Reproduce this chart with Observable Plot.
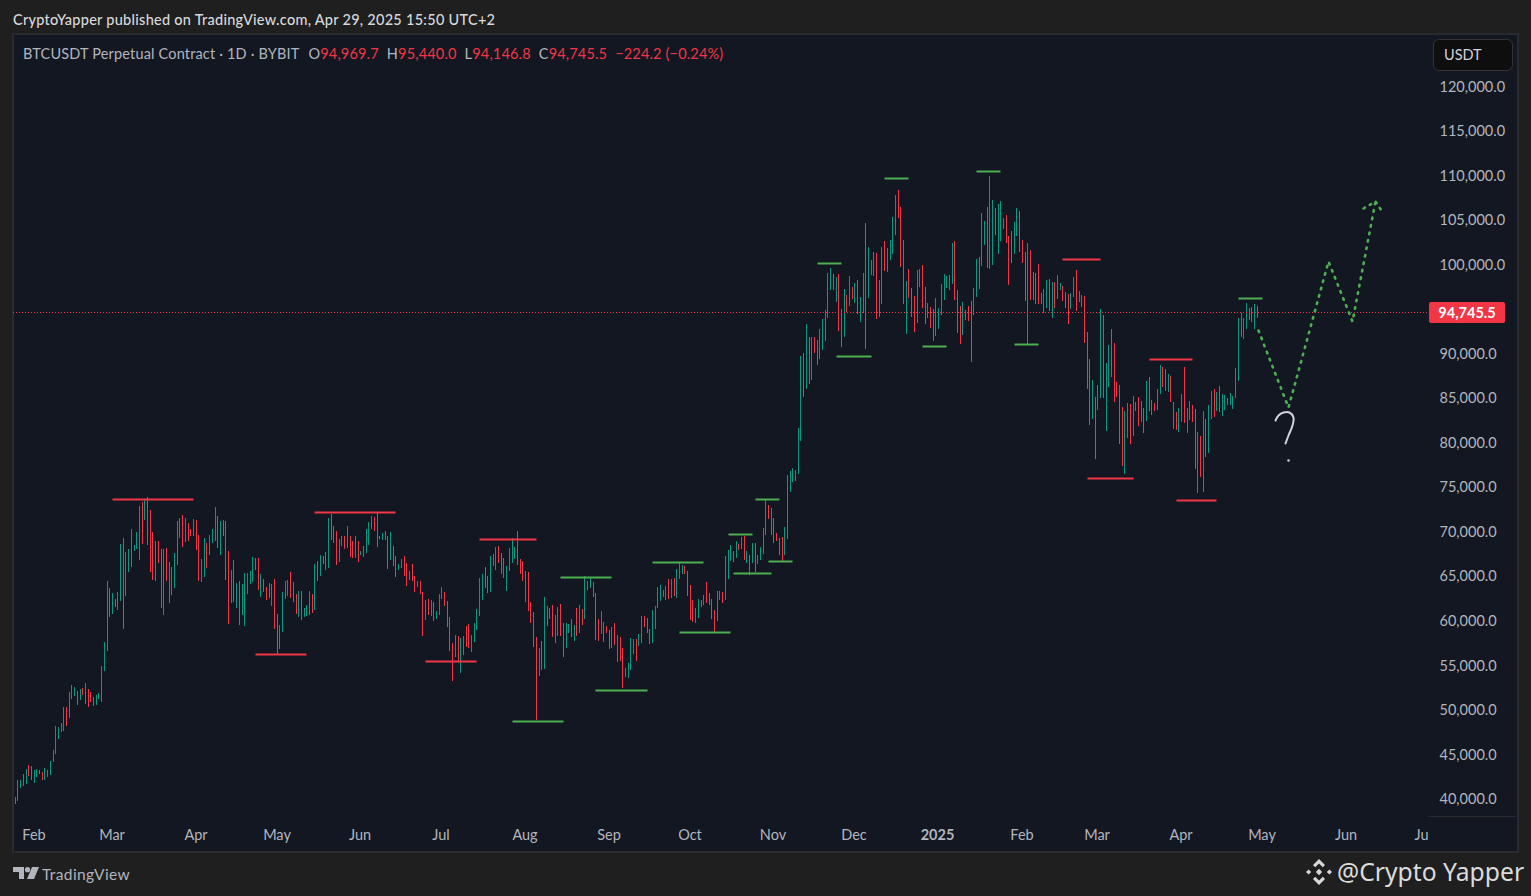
<!DOCTYPE html>
<html>
<head>
<meta charset="utf-8">
<script src="https://cdn.jsdelivr.net/npm/d3@7"></script>
<script src="https://cdn.jsdelivr.net/npm/@observablehq/plot@0.6"></script>
<style>
html,body{margin:0;padding:0;background:#1f1f1f;width:1531px;height:896px;overflow:hidden}
body{position:relative;font-family:"Lato",sans-serif}
.abs{position:absolute;white-space:nowrap}
#pane{left:12px;top:33px;width:1503px;height:816px;background:#131722;border:2px solid #2a2b2e}
#axisline{left:1428px;top:816px;width:88px;height:1px;background:#2a2b2e}
#chart{position:absolute;left:0;top:0}
#pub{left:13px;top:11px;font-size:14.5px;color:#d8d9dc;font-weight:500;letter-spacing:.27px}
#legend{left:23px;top:45px;font-size:14.5px;color:#b2b5be;letter-spacing:.17px}
#legend b{font-weight:400;color:#f23645}
#legend span{margin-right:8px}
#legend span:first-child{margin-right:9px}
#usdt{left:1433px;top:39px;width:80px;height:32px;box-sizing:border-box;background:#0e0e0f;border:1px solid #333;border-radius:6px;color:#d1d4dc;font-size:14.5px;line-height:30px;padding-left:10px}
#tag{left:1429px;top:302px;width:76px;height:21px;background:#f23645;color:#fff;font-size:14.5px;line-height:21px;text-align:center;font-weight:700;border-radius:2px}
#tvtext{left:42px;top:865px;font-size:15.5px;color:#b2b5be;letter-spacing:.4px}
#tvlogo{left:13px;top:867px}
#byline{left:1337px;top:855px;font-family:"Noto Sans",sans-serif;font-size:24.7px;color:#dcdcdc}
#bnlogo{left:1305px;top:858px}
</style>
</head>
<body>
<div class="abs" id="pane"></div>
<div class="abs" id="axisline"></div>
<div id="chart"></div>
<div class="abs" id="pub">CryptoYapper published on TradingView.com, Apr 29, 2025 15:50 UTC+2</div>
<div class="abs" id="legend"><span>BTCUSDT Perpetual Contract · 1D · BYBIT</span><span>O<b>94,969.7</b></span><span>H<b>95,440.0</b></span><span>L<b>94,146.8</b></span><span>C<b>94,745.5</b></span><b>−224.2 (−0.24%)</b></div>
<div class="abs" id="usdt">USDT</div>
<div class="abs" id="tag">94,745.5</div>
<svg class="abs" id="tvlogo" width="26" height="14" viewBox="0 0 26 14"><path fill="#b2b5be" d="M0 0h11v12H6V5H0z"/><circle cx="14.5" cy="2.7" r="2.6" fill="#b2b5be"/><path fill="#b2b5be" d="M19 0h7l-5 12h-7z"/></svg>
<div class="abs" id="tvtext">TradingView</div>
<svg class="abs" id="bnlogo" width="28" height="28" viewBox="0 0 28 28"><g fill="#d8d8d8"><path d="M14 1l6 6-2.2 2.2L14 5.4l-3.8 3.8L8 7z"/><path d="M14 27l6-6-2.2-2.2L14 22.6l-3.8-3.8L8 21z"/><path d="M1 14l2.6-2.6L6.2 14l-2.6 2.6z"/><path d="M27 14l-2.6-2.6L21.8 14l2.6 2.6z"/><path d="M14 10.8l3.2 3.2-3.2 3.2-3.2-3.2z"/></g></svg>
<div class="abs" id="byline">@Crypto Yapper</div>
<script>
const startDate = "2024-01-25";
const endDate = "2025-04-29";
const lastClose = 94745.5;
const upColor = "#089981";
const downColor = "#f23645";
const levelGreen = "#4caf50";

// Daily highs, in thousands of USDT
const highs = [
40.4,42.3,42.3,42.9,43.5,44.0,43.8,43.4,43.5,43.4,
43.2,43.6,43.4,44.4,45.6,48.3,48.2,48.7,50.5,50.5,
52.1,52.9,52.7,52.3,52.5,52.6,53.2,52.5,52.1,51.6,
51.8,52.0,55.1,57.8,64.6,63.8,63.3,62.6,63.4,68.8,
69.4,67.9,68.2,70.4,68.6,70.1,73.0,73.5,73.8,74.0,
72.6,70.1,69.1,69.1,68.2,68.2,68.3,66.7,66.2,67.7,
71.3,71.7,72.0,71.7,71.1,70.4,71.6,71.5,69.8,67.1,
69.4,68.9,69.8,70.4,72.9,71.9,71.3,71.5,71.3,68.0,
65.8,67.0,64.4,64.6,64.3,65.5,65.5,65.7,67.3,67.2,
67.2,65.4,64.8,63.9,64.4,64.3,64.8,60.9,59.7,63.4,
64.6,64.7,65.6,64.5,63.1,63.5,63.5,61.6,61.9,63.5,
63.1,66.5,66.8,67.5,67.4,67.9,71.7,72.1,70.8,70.2,
69.3,69.7,69.7,70.8,69.7,69.1,69.7,69.1,68.0,68.5,
70.4,71.2,71.9,71.8,72.2,69.7,70.0,70.2,69.7,70.1,
68.5,67.4,66.5,67.1,67.4,66.6,65.7,66.5,65.2,64.6,
64.6,63.4,62.5,62.6,62.5,62.2,61.2,63.1,63.9,63.4,
62.4,60.6,57.6,58.5,58.4,58.2,58.4,59.5,59.8,58.5,
59.9,61.5,64.9,65.4,66.2,65.2,67.4,67.6,68.4,68.5,
67.7,67.2,66.3,68.3,69.4,68.4,70.2,67.1,66.8,65.7,
65.6,62.2,61.1,58.3,57.1,57.9,62.8,61.8,61.6,61.9,
60.8,61.7,62.0,59.9,59.9,59.8,60.3,59.7,61.6,61.9,
61.5,65.2,64.6,65.0,64.5,63.3,60.3,61.2,60.0,59.5,
59.1,59.4,59.9,58.5,58.3,57.1,54.8,55.4,58.2,58.1,
58.1,58.7,60.7,60.7,60.4,59.2,61.3,61.8,63.9,64.2,
63.6,64.0,64.8,64.8,64.9,65.9,66.6,66.4,66.3,65.7,
64.1,62.5,61.6,62.6,62.5,63.0,64.5,63.3,62.6,61.3,
63.5,63.5,63.4,67.4,68.1,68.6,68.0,69.1,68.8,69.5,
69.7,68.0,67.5,68.9,68.9,67.5,68.4,70.6,73.7,73.1,
72.8,71.7,70.0,69.4,69.5,70.7,76.5,76.9,77.3,77.1,
81.8,89.9,90.2,93.4,92.0,92.0,92.0,91.7,92.9,94.0,
95.0,99.2,99.7,99.1,98.7,99.1,95.1,97.4,96.7,98.8,
97.6,98.0,98.4,96.5,99.2,104.8,102.1,100.6,101.5,101.4,
98.4,102.1,102.8,102.0,102.9,105.5,107.9,108.5,106.6,102.9,
98.3,99.6,97.5,96.6,99.5,99.6,100.1,97.6,95.8,95.4,
95.1,96.4,95.2,97.9,99.1,98.8,99.0,102.5,102.8,97.3,
95.5,95.9,95.0,95.5,96.0,97.5,100.7,101.0,105.9,105.0,
106.6,110.1,107.4,106.5,106.9,107.3,105.3,105.7,103.3,103.9,
104.9,106.5,106.1,102.9,101.5,102.5,101.8,99.3,99.2,100.2,
96.9,97.4,98.4,98.5,98.2,98.2,99.0,98.0,97.7,97.0,
96.8,96.9,98.7,99.5,97.2,96.7,96.6,92.5,89.5,87.2,
85.3,86.6,95.1,94.5,89.1,91.1,92.9,91.3,86.9,86.6,
84.1,83.7,84.6,84.5,85.4,84.7,85.3,84.8,84.0,87.1,
87.5,84.9,84.6,86.1,88.8,88.6,88.4,87.8,87.6,84.7,
83.6,84.0,85.6,88.6,84.0,84.8,84.4,83.9,81.3,80.9,
83.7,82.8,84.4,85.9,86.1,85.8,86.5,85.6,85.5,85.1,
85.7,85.4,88.5,94.1,94.7,94.1,95.8,95.2,95.4,95.7,95.44];

// Daily lows, in thousands of USDT
const lows = [
39.6,39.9,41.4,41.6,41.8,42.7,42.3,41.9,42.6,42.9,
42.3,42.3,42.6,42.8,44.3,45.2,46.9,47.7,47.8,48.3,
49.2,51.4,51.7,50.7,51.2,51.8,50.8,50.5,51.0,50.6,
50.7,51.4,51.0,54.5,56.7,60.6,60.9,61.7,61.3,62.4,
59.2,62.9,65.6,66.2,68.0,68.2,67.0,68.8,71.5,68.6,
65.6,64.7,64.6,66.6,61.6,60.8,64.6,62.1,63.0,63.8,
66.4,69.4,68.4,69.0,69.1,69.7,69.7,68.1,64.6,64.5,
65.0,66.1,67.5,68.9,69.1,68.3,67.5,69.7,64.7,59.8,
62.1,62.2,61.6,59.7,60.8,59.5,63.1,64.3,64.5,65.8,
63.6,62.8,63.4,62.5,62.7,61.8,59.2,56.4,57.0,58.9,
62.6,62.9,62.7,62.2,60.9,60.6,60.2,60.6,60.7,60.8,
61.0,61.3,64.6,65.2,66.5,65.8,66.1,69.2,68.9,66.4,
66.7,68.5,68.2,68.3,67.3,67.2,67.2,66.7,67.5,67.3,
67.7,68.6,70.4,70.2,68.4,69.3,69.2,69.2,65.9,67.0,
66.3,65.0,65.8,66.1,65.2,64.0,64.7,64.6,63.4,63.9,
63.1,58.4,60.2,60.8,60.7,60.1,60.3,60.8,62.6,61.8,
59.4,56.7,53.4,56.1,55.6,54.3,56.3,57.2,57.1,56.6,
57.8,59.1,60.7,62.5,63.8,63.3,63.4,66.3,65.8,66.6,
65.4,64.9,63.5,65.7,66.6,67.1,66.4,65.4,64.6,62.2,
61.2,59.9,57.2,49.0,53.9,54.6,54.7,59.5,60.3,58.3,
57.6,58.4,58.4,56.1,57.1,58.8,58.3,57.9,58.4,58.8,
59.7,60.3,63.6,63.8,62.8,58.0,57.9,58.7,57.8,58.8,
57.0,57.1,57.4,55.5,55.6,52.6,53.8,53.7,54.6,56.4,
55.6,57.3,57.6,59.4,58.8,57.5,57.6,59.2,61.6,62.4,
62.8,62.5,62.6,62.7,62.9,62.7,64.8,65.4,65.4,62.9,
60.2,60.0,59.9,60.4,61.7,61.9,62.1,61.9,60.3,58.9,
60.1,62.5,62.1,62.5,64.8,66.8,66.7,67.2,68.1,68.2,
67.0,66.6,65.3,66.6,65.6,66.5,67.0,67.6,69.8,71.6,
69.8,68.9,69.1,67.5,66.8,67.5,69.3,74.6,75.7,75.8,
76.6,80.3,85.3,86.1,86.7,87.2,90.2,88.9,89.5,90.5,
91.5,94.1,97.3,97.3,95.9,92.7,90.9,92.0,94.8,95.5,
96.3,95.8,94.6,93.7,94.7,90.6,96.4,99.0,98.8,94.0,
94.2,95.7,99.4,99.3,100.6,101.3,103.4,105.3,99.9,95.7,
92.3,96.4,94.2,92.5,93.6,97.6,95.2,93.4,94.1,93.0,
91.5,92.1,92.9,94.5,96.1,97.5,97.3,97.9,96.1,92.4,
91.2,92.2,93.9,93.8,89.2,94.5,96.5,97.4,100.0,102.3,
99.7,99.6,100.1,103.4,101.3,102.8,104.1,102.5,97.8,100.3,
101.3,103.3,101.5,100.3,96.0,91.2,96.1,96.1,95.7,95.7,
95.7,94.7,95.2,94.9,94.1,95.2,96.3,97.3,96.0,95.2,
93.4,95.1,96.5,94.9,95.9,95.4,91.3,86.1,82.1,82.8,
78.3,83.8,85.1,85.1,81.4,86.4,87.5,84.7,85.3,80.0,
77.5,76.6,80.6,80.0,80.9,83.7,82.0,82.5,81.2,82.6,
83.7,83.2,83.7,83.8,85.6,86.4,85.9,85.8,84.7,81.7,
81.5,81.3,82.5,82.3,81.2,82.7,82.5,77.2,74.5,76.3,
74.6,78.5,79.0,82.8,83.0,83.7,83.6,83.1,83.8,84.4,
84.4,83.9,85.1,87.1,92.0,91.8,92.9,93.9,93.7,92.9,94.15];

// Day direction: g = up, r = down
const directions = [
"rggrgrrggr","rggggggggr","gggrgrgrrr","gggggrgrgg","rggggggrgr","rrgrrgrrgg",
"ggrgrrgrrg","grgggrgrrr","grgrgggggr","rgrrrgrrgg","ggrrrgrggg","rgrgrrgrrr",
"ggrgrrgrgr","gggrrrgrrg","rrggrrrrrg","rrgrgrgggr","rrrgrggrrg","ggggrrgggr",
"rrggggrrrg","rrrrgrgrgr","ggrrggrgrg","rgggrrrgrr","rgrgrrgggg","rggrrrgggg",
"ggrgrgggrr","rrggrgrrrr","ggrgggrgrg","rgrgrggggr","rrrrrggggg","ggrgrgrrgg",
"gggrgrrgrg","rgrggrgggr","rgrggggrrr","grrrggrrgr","rgggggggrr","rgrrrggrgg",
"rggrggrrrr","ggrrrgrrrr","rggrgrggrr","rggrgrrrrg","rggrggrrrr","rggrggrgrg",
"rrrggrrgrr","rggrggrrgr","grggrgrggr","gggggggrrgr"
].join("");

// Marked support and resistance levels
const levelStarts = ["2024-03-01","2024-05-15","2024-04-23","2024-06-25","2024-07-15","2024-07-27","2024-08-14","2024-08-27","2024-09-17","2024-09-27","2024-10-15","2024-10-17","2024-10-25","2024-10-30","2024-11-17","2024-11-24","2024-12-12","2024-12-26","2025-01-15","2025-01-29","2025-04-22","2025-02-16","2025-02-25","2025-03-20","2025-03-30"];
const levelEnds = ["2024-03-31","2024-06-14","2024-05-12","2024-07-14","2024-08-05","2024-08-15","2024-09-02","2024-09-15","2024-10-06","2024-10-16","2024-10-24","2024-10-31","2024-11-03","2024-11-08","2024-11-26","2024-12-07","2024-12-21","2025-01-04","2025-01-24","2025-02-07","2025-05-01","2025-03-02","2025-03-14","2025-04-05","2025-04-14"];
const levelPrices = [73.85,72.35,56.4,55.62,69.35,48.85,65.05,52.4,66.73,58.87,69.88,65.53,73.8,66.84,100.3,89.86,109.84,90.98,110.63,91.2,96.37,100.75,76.16,89.52,73.7];
const levelKinds = ["r","r","r","r","r","g","g","g","g","g","g","g","g","g","g","g","g","g","g","g","g","r","r","r","r"];

// Dotted forecast path
const forecastDates = ["2025-04-29T14:00Z","2025-05-10T12:00Z","2025-05-25T07:00Z","2025-06-03T07:00Z","2025-06-11T19:00Z"];
const forecastPrices = [92.78,84.17,100.52,93.82,107.26];
const arrowDates = ["2025-06-07T07:00Z","2025-06-11T19:00Z","2025-06-14T22:00Z"];
const arrowPrices = [106.43,107.26,105.87];

// Hand-drawn question mark
const questionDates = ["2025-05-05T14:00Z","2025-05-06T19:00Z","2025-05-08T14:00Z","2025-05-11T02:00Z","2025-05-12T07:00Z","2025-05-12T02:00Z","2025-05-10T12:00Z","2025-05-09T12:00Z"];
const questionPrices = [82.67,83.23,83.53,83.61,83.05,82.11,81.0,80.13];
const questionDotDate = "2025-05-10T12:00Z";
const questionDotPrice = 78.14;

// Axis content
const monthTicks = ["2024-02-01","2024-03-01","2024-04-01","2024-05-01","2024-06-01","2024-07-01","2024-08-01","2024-09-01","2024-10-01","2024-11-01","2024-12-01","2025-02-01","2025-03-01","2025-04-01","2025-05-01","2025-06-01"];
const yearTick = "2025-01-01";
const clippedMonthLabel = "Ju";
const priceTicks = [40,45,50,55,60,65,70,75,80,85,90,100,105,110,115,120];

const dates = d3.utcDays(new Date(startDate), d3.utcDay.offset(new Date(endDate), 1));
const candles = dates.map((date, i) => ({
  date, high: highs[i] * 1000, low: lows[i] * 1000,
  color: directions[i] === "g" ? upColor : downColor
}));
const levels = levelStarts.map((s, i) => ({
  x1: new Date(s), x2: new Date(levelEnds[i]), y: levelPrices[i] * 1000,
  color: levelKinds[i] === "g" ? levelGreen : downColor
}));
const toPoints = (ds, ps) => ds.map((d, i) => ({date: new Date(d), price: ps[i] * 1000}));
const fmtMonth = d3.utcFormat("%b");
const fontFamily = '"Lato",sans-serif';

const chart = Plot.plot({
  width: 1531, height: 896,
  marginTop: 35, marginBottom: 79, marginLeft: 13, marginRight: 103,
  style: {background: "transparent", fontFamily, fontSize: "14.5px", color: "#b2b5be"},
  x: {type: "utc", domain: [new Date("2024-01-24T08:24Z"), new Date("2025-07-01T09:48Z")], round: true},
  y: {domain: [38107, 125894], round: true},
  color: {type: "identity"},
  marks: [
    Plot.ruleX(candles, {x: "date", y1: "low", y2: "high", stroke: "color", strokeWidth: 1}),
    Plot.ruleY([lastClose], {stroke: downColor, strokeWidth: 1, strokeDasharray: "1 2"}),
    Plot.link(levels, {x1: "x1", x2: "x2", y1: "y", y2: "y", stroke: "color", strokeWidth: 2}),
    Plot.line(toPoints(forecastDates, forecastPrices), {x: "date", y: "price", stroke: levelGreen, strokeWidth: 2.6, strokeDasharray: "1.6 6"}),
    Plot.line(toPoints(arrowDates, arrowPrices), {x: "date", y: "price", stroke: levelGreen, strokeWidth: 2.6, strokeDasharray: "1.6 5.6"}),
    Plot.line(toPoints(questionDates, questionPrices), {x: "date", y: "price", stroke: "#d1d4dc", strokeWidth: 2, curve: "catmull-rom"}),
    Plot.dot([{date: new Date(questionDotDate), price: questionDotPrice * 1000}], {x: "date", y: "price", r: 1.2, fill: "#d1d4dc"}),
    Plot.axisY(priceTicks.map(d => d * 1000), {anchor: "right", tickSize: 0, tickPadding: 11, dy: -1, label: null, tickFormat: d3.format(",.1f"), fill: "#b2b5be"}),
    Plot.axisX(monthTicks.map(d => new Date(d)), {anchor: "bottom", tickSize: 0, tickPadding: 12, dx: -0.5, label: null, tickFormat: fmtMonth, fill: "#b2b5be"}),
    Plot.axisX([new Date(yearTick)], {anchor: "bottom", tickSize: 0, tickPadding: 12, dx: -1, label: null, tickFormat: "%Y", fill: "#b2b5be", fontWeight: "bold"}),
    Plot.text([clippedMonthLabel], {frameAnchor: "bottom-right", textAnchor: "end", lineAnchor: "top", dy: 12, fill: "#b2b5be"})
  ]
});
document.getElementById("chart").append(chart);
</script>
</body>
</html>
